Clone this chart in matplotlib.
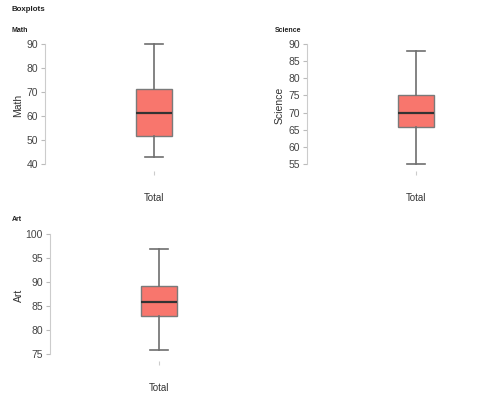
import matplotlib
matplotlib.use("Agg")
import matplotlib.pyplot as plt

plt.rcParams["font.family"] = ["Liberation Sans", "DejaVu Sans"]

W, H = 480, 403

subjects = ["Math", "Science", "Art"]
group_labels = ["Total"]
medians = [61.4, 70.0, 86.0]
q1 = [51.7, 65.7, 83.0]
q3 = [71.1, 75.1, 89.2]
whislo = [43.0, 55.0, 76.0]
whishi = [90.0, 88.0, 97.0]
yticks_list = [
    [40, 50, 60, 70, 80, 90],
    [55, 60, 65, 70, 75, 80, 85, 90],
    [75, 80, 85, 90, 95, 100],
]

# panel layout in pixels: (axis x, top tick y, bottom tick y, title x, title y, ylabel x)
layout = [
    (45.0, 44.0, 164.0, 12.0, 30.0, 23.5),
    (306.7, 44.0, 164.0, 275.0, 30.0, 284.5),
    (50.0, 234.3, 354.3, 12.0, 219.5, 23.5),
]

fig = plt.figure(figsize=(W / 100, H / 100), dpi=100)
fig.text(12 / W, 1 - 9.5 / H, "Boxplots", fontsize=5.7, fontweight="bold",
         color="#222222", ha="left", va="center")

AX_W = 218.0
for i, name in enumerate(subjects):
    axx, ttop, tbot, tx, ty, ylx = layout[i]
    ticks = yticks_list[i]
    lo, hi = min(ticks), max(ticks)
    ppu = (tbot - ttop) / (hi - lo)
    top_px = ttop - 4
    bot_px = tbot + 7
    ax = fig.add_axes([axx / W, 1 - bot_px / H, AX_W / W, (bot_px - top_px) / H])
    ax.set_ylim(lo - 7 / ppu, hi + 4 / ppu)
    ax.set_xlim(0, 2)
    stats = [dict(med=medians[i], q1=q1[i], q3=q3[i], whislo=whislo[i],
                  whishi=whishi[i], label=group_labels[0])]
    ax.bxp(stats, positions=[1], widths=0.33, capwidths=0.165, patch_artist=True,
           showfliers=False,
           boxprops=dict(facecolor="#F8766D", edgecolor="#7a7a7a", linewidth=1.0),
           medianprops=dict(color="#333333", linewidth=1.6),
           whiskerprops=dict(color="#6e6e6e", linewidth=1.2),
           capprops=dict(color="#6e6e6e", linewidth=1.2))
    ax.set_yticks(ticks)
    ax.set_xticks([1])
    ax.set_xticklabels(group_labels)
    for s in ["top", "right", "bottom"]:
        ax.spines[s].set_visible(False)
    ax.spines["left"].set_bounds(lo, hi)
    ax.spines["left"].set_color("#cccccc")
    ax.spines["left"].set_linewidth(0.8)
    ax.tick_params(axis="y", direction="out", length=3, width=0.8, color="#bbbbbb",
                   labelsize=7.5, labelcolor="#444444", pad=2)
    ax.tick_params(axis="x", direction="out", length=3, width=0.8, color="#cccccc",
                   labelsize=7, labelcolor="#333333", pad=12.5)
    ax.set_ylabel(name, fontsize=7.5, color="#333333")
    ax.yaxis.set_label_coords((ylx - axx) / AX_W, 0.5)
    ax.patch.set_alpha(0)
    fig.text(tx / W, 1 - ty / H, name, fontsize=5, fontweight="bold",
             color="#222222", ha="left", va="center")

fig.savefig("out.png", dpi=100)
